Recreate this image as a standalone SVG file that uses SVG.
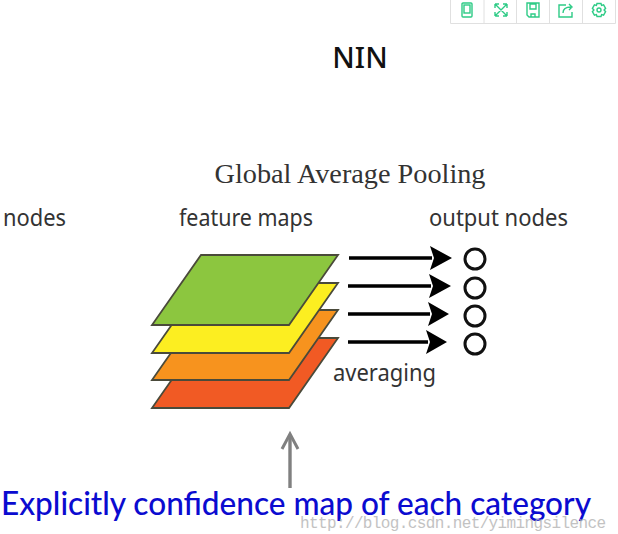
<svg xmlns="http://www.w3.org/2000/svg" width="618" height="534" viewBox="0 0 618 534">
<style>
.t{font-family:"Noto Sans","Open Sans",sans-serif;fill:#333;font-size:23px}
.lay{stroke:#4a4a3a;stroke-width:1.8;stroke-linejoin:miter}
.arr{stroke:#000;stroke-width:3.4;fill:none}
.head{fill:#000}
.c{fill:#fff;stroke:#111;stroke-width:3}
.ic{fill:none;stroke:#2ecb86;stroke-width:1.4}
</style>
<rect width="618" height="534" fill="#fff"/>
<g id="toolbar">
<path d="M450.500 0V23.500H615.500V0M484 0V23M516.500 0V23M549.500 0V23M582.500 0V23" fill="none" stroke="#e0e0e0" stroke-width="1"/>
<rect class="ic" x="462" y="3" width="10" height="14" rx="1"/><rect class="ic" x="464" y="5" width="6" height="8"/>
<path class="ic" d="M495 4h4M495 4v4M507 4h-4M507 4v4M495 16h4M495 16v-4M507 16h-4M507 16v-4M495 4l12 12M507 4l-12 12"/>
<path class="ic" d="M527 3h12v14h-10l-2-2zM530 4h6v5h-6zM531 17v-3h4v3"/>
<path class="ic" d="M566 5h-7v12h13v-5M563 13c0-4 3-6 8-6M569 4l3 3-3 3"/>
<path class="ic" d="M597 3.500h4l.6 2 2-.6 2 3.400-1.500 1.700 1.500 1.700-2 3.400-2-.6-.6 2h-4l-.6-2-2 .6-2-3.400 1.500-1.700-1.500-1.700 2-3.400 2 .6z"/><circle class="ic" cx="599" cy="10" r="2"/>
</g>
<g id="title"><text x="360" y="68" text-anchor="middle" font-size="29" fill="#111" font-weight="500" style="font-family:'Noto Sans','Open Sans',sans-serif">NIN</text></g>
<g id="heading"><text x="350" y="183" text-anchor="middle" font-size="27" fill="#333" style="font-family:'Liberation Serif',serif" textLength="271" lengthAdjust="spacingAndGlyphs">Global Average Pooling</text></g>
<g id="nodes-label"><text class="t" x="3" y="226" textLength="63" lengthAdjust="spacingAndGlyphs">nodes</text></g>
<g id="feature-maps-label"><text class="t" x="179" y="226" textLength="134" lengthAdjust="spacingAndGlyphs">feature maps</text></g>
<g id="output-nodes-label"><text class="t" x="429" y="226" textLength="139" lengthAdjust="spacingAndGlyphs">output nodes</text></g>
<g id="layer-red"><polygon class="lay" points="201,338 338,338 289,408 152,408" fill="#f15a24"/></g>
<g id="layer-orange"><polygon class="lay" points="201,310 338,310 289,380 152,380" fill="#f7931e"/></g>
<g id="layer-yellow"><polygon class="lay" points="201,283 338,283 289,353 152,353" fill="#fcee21"/></g>
<g id="layer-green"><polygon class="lay" points="201,255 338,255 289,325 152,325" fill="#8cc63f"/></g>
<g id="connectors">
<path class="arr" d="M349 258H432M348 286H431M348 314H430M348 342H428"/>
<path class="head" d="M430 246L452 258L430 270L434 258zM429 274L451 286L429 298L433 286zM428 302L449 314L428 326L432 314zM426 330L447 342L426 354L430 342z"/>
<path d="M290 488V436" stroke="#808080" stroke-width="3.400" fill="none"/>
<path d="M282 449L290 434L298 449" stroke="#808080" stroke-width="3" fill="none"/>
</g>
<g id="output-1"><circle class="c" cx="475" cy="259" r="10"/></g>
<g id="output-2"><circle class="c" cx="475" cy="288" r="10"/></g>
<g id="output-3"><circle class="c" cx="475" cy="316" r="10"/></g>
<g id="output-4"><circle class="c" cx="475" cy="344" r="10"/></g>
<g id="averaging-label"><text class="t" x="333" y="381" textLength="103" lengthAdjust="spacingAndGlyphs">averaging</text></g>
<g id="caption"><text x="1" y="515" font-size="33" font-weight="500" fill="#0b0bd0" style="font-family:'Lato','Noto Sans',sans-serif" textLength="590" lengthAdjust="spacingAndGlyphs">Explicitly confidence map of each category</text></g>
<g id="watermark"><text x="300" y="528" font-size="16" fill="#b4b4b4" opacity=".8" style="font-family:'Liberation Mono',monospace" textLength="306">http://blog.csdn.net/yimingsilence</text></g>
</svg>
